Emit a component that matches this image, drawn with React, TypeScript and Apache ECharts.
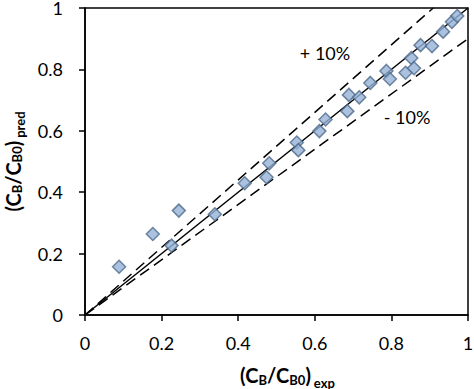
import React, { useEffect, useRef } from "react";
import * as echarts from "echarts";

const expValues = [0.089, 0.177, 0.245, 0.226, 0.339, 0.417, 0.474, 0.481, 0.553, 0.557, 0.612, 0.628, 0.685, 0.689, 0.716, 0.745, 0.787, 0.796, 0.837, 0.852, 0.859, 0.876, 0.906, 0.935, 0.958, 0.972];
const predValues = [0.157, 0.264, 0.340, 0.226, 0.328, 0.429, 0.449, 0.494, 0.562, 0.537, 0.599, 0.637, 0.664, 0.717, 0.709, 0.756, 0.795, 0.769, 0.789, 0.837, 0.804, 0.879, 0.876, 0.923, 0.955, 0.974];
const parityLine = [[0, 0], [1, 1]];
const plusLine = [[0, 0], [1 / 1.1, 1]];
const minusLine = [[0, 0], [1, 0.9]];
const tickInterval = 0.2;

export default function App() {
  const ref = useRef<HTMLDivElement>(null);
  useEffect(() => {
    document.body.style.margin = "0";
    const chart = echarts.init(ref.current!, null, { renderer: "svg" });
    const font = "Lato, 'Open Sans', sans-serif";
    const axisCommon = {
      min: 0,
      max: 1,
      interval: tickInterval,
      axisLine: { show: true, lineStyle: { color: "#000", width: 1.5 } },
      axisTick: { show: true, inside: false, length: 6, lineStyle: { color: "#000", width: 1.5 } },
      splitLine: { show: false },
      axisLabel: { color: "#000", fontSize: 18, fontFamily: font },
    };
    const rich = {
      m: { fontSize: 20, fontWeight: "bold", fontFamily: font, color: "#000", lineHeight: 24 },
      s: { fontSize: 13, fontWeight: "bold", fontFamily: font, color: "#000", lineHeight: 13, padding: [9, 0, 0, 0] },
      s2: { fontSize: 13, fontWeight: "bold", fontFamily: font, color: "#000", lineHeight: 13, padding: [15, 0, 0, 3] },
    };
    const lineStyleSolid = { color: "#000", width: 1.5 };
    const lineStyleDash = { color: "#000", width: 1.5, type: [11, 6] as any };
    chart.setOption({
      animation: false,
      grid: { left: 85, right: 6, top: 8, bottom: 74, show: true, borderColor: "#000", borderWidth: 1.5, outerBoundsMode: "none" },
      xAxis: {
        type: "value",
        ...axisCommon,
        axisLabel: { ...axisCommon.axisLabel, margin: 19 },
        name: "{m|(C}{s|B}{m|/C}{s|B0}{m|)}{s2|exp}",
        nameLocation: "middle",
        nameGap: 48,
        nameTextStyle: { rich, padding: [0, 0, 0, 22] },
      },
      yAxis: {
        type: "value",
        ...axisCommon,
        axisLabel: { ...axisCommon.axisLabel, margin: 22 },
        name: "{m|(C}{s|B}{m|/C}{s|B0}{m|)}{s2|pred}",
        nameLocation: "middle",
        nameGap: 56,
        nameTextStyle: { rich },
      },
      series: [
        { type: "line", data: parityLine, symbol: "none", lineStyle: lineStyleSolid, z: 2 },
        { type: "line", data: plusLine, symbol: "none", lineStyle: lineStyleDash, z: 2 },
        { type: "line", data: minusLine, symbol: "none", lineStyle: lineStyleDash, z: 2 },
        {
          type: "scatter",
          data: expValues.map((x, i) => [x, predValues[i]]),
          symbol: "diamond",
          symbolSize: 13,
          itemStyle: { color: "#95B3D7", borderColor: "#4F6A8A", borderWidth: 1.5 },
          z: 5,
        },
      ],
      graphic: [
        { type: "text", x: 325, y: 53, style: { text: "+ 10%", fontSize: 18, fontFamily: font, fill: "#000", align: "center", verticalAlign: "middle" } },
        { type: "text", x: 407, y: 117, style: { text: "- 10%", fontSize: 18, fontFamily: font, fill: "#000", align: "center", verticalAlign: "middle" } },
      ],
    });
    return () => chart.dispose();
  }, []);
  return <div ref={ref} style={{ width: 474, height: 389 }} />;
}
